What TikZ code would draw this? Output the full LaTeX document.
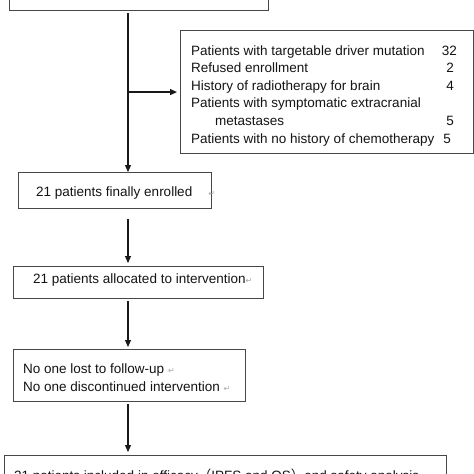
\documentclass[tikz,border=0pt]{standalone}
\usepackage{fontspec}
\setmainfont{Liberation Sans}
\newfontfamily\symf{DejaVu Sans}
\newfontfamily\cjk{Noto Sans CJK SC}
\usetikzlibrary{arrows.meta}
\newcommand{\pmark}{{\symf\fontsize{8}{8}\selectfont\color{black!35}↵}}
\begin{document}
\begin{tikzpicture}[x=1pt,y=-1pt,
  flowbox/.style={draw=black!72, line width=1.1pt, inner sep=0pt, rectangle, anchor=north west},
  txt/.style={inner sep=0pt, anchor=base west, text=black!92, font=\fontsize{13.5}{16}\selectfont},
  num/.style={inner sep=0pt, anchor=base east, text=black!92, font=\fontsize{13.5}{16}\selectfont},
  arr/.style={draw=black!90, line width=1.2pt, -{Triangle[length=7pt,width=6pt]}}]
\useasboundingbox (0,0) rectangle (474,474);
\clip (0,0) rectangle (474,474);
\fill[white] (0,0) rectangle (474,474);
% boxes
\node[flowbox, minimum width=259pt, minimum height=40pt] (top) at (9,-30) {};
\node[flowbox, minimum width=293pt, minimum height=123pt] (excl) at (180,30) {};
\node[flowbox, minimum width=193pt, minimum height=36pt] (enr) at (18,172) {};
\node[flowbox, minimum width=250pt, minimum height=32pt] (alloc) at (13,266) {};
\node[flowbox, minimum width=232pt, minimum height=52pt] (follow) at (13,349) {};
\node[flowbox, minimum width=442pt, minimum height=40pt] (anal) at (4,455) {};
% exclusion texts
\node[txt] (e1) at (191,55) {Patients with targetable driver mutation};
\node[num] (n1) at (457,55) {32};
\node[txt] (e2) at (191,72.5) {Refused enrollment};
\node[num] (n2) at (454,72.5) {2};
\node[txt] (e3) at (191,90) {History of radiotherapy for brain};
\node[num] (n3) at (454,90) {4};
\node[txt] (e4) at (191,107.5) {Patients with symptomatic extracranial};
\node[txt] (e5) at (215,125) {metastases};
\node[num] (n5) at (454,125) {5};
\node[txt] (e6) at (191,143) {Patients with no history of chemotherapy};
\node[num] (n6) at (451,143) {5};
% box texts
\node[txt] (t1) at (36,196) {21 patients finally enrolled\hspace{16pt}\pmark};
\node[txt] (t2) at (33,283) {21 patients allocated to intervention\pmark};
\node[txt] (t3) at (23,373) {No one lost to follow-up \pmark};
\node[txt] (t4) at (23,391) {No one discontinued intervention \pmark};
\node[txt] (t5) at (14,480) {21 patients included in efficacy{\cjk （}IPFS and OS{\cjk ）}and safety analysis\pmark};
% connectors
\coordinate (a) at (128,13);
\draw[arr] (a) -- (a |- enr.north);
\draw[arr, shorten >=3pt] (a |- excl.west) -- (excl.west);
\draw[arr, shorten <=10pt, shorten >=3pt] (a |- enr.south) -- (a |- alloc.north);
\draw[arr, shorten <=2pt, shorten >=2pt] (a |- alloc.south) -- (a |- follow.north);
\draw[arr, shorten <=2pt, shorten >=3pt] (a |- follow.south) -- (a |- anal.north);
\end{tikzpicture}
\end{document}
